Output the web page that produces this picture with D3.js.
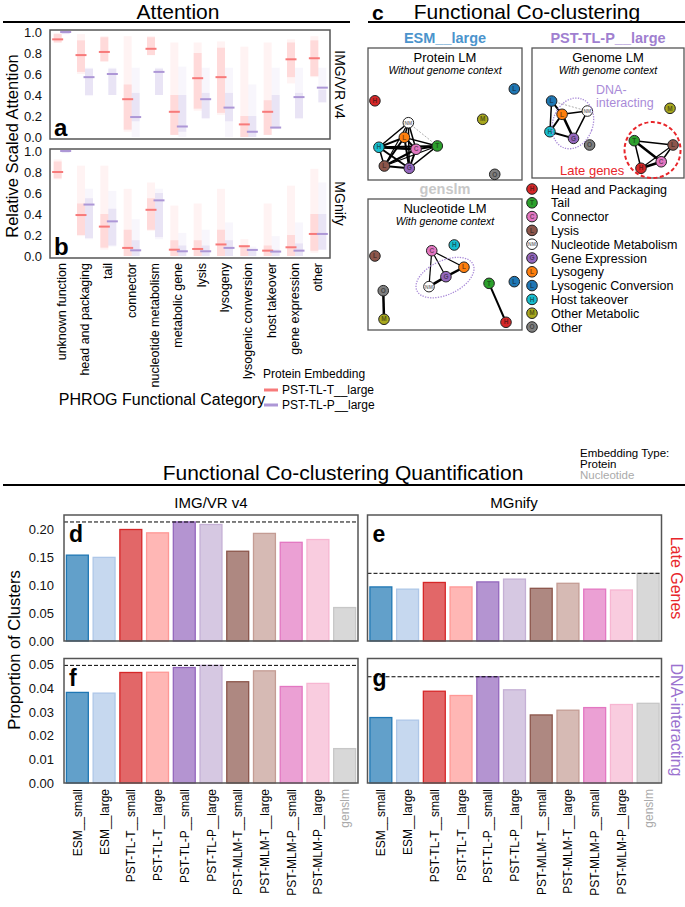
<!DOCTYPE html>
<meta charset="utf-8">
<style>
body { margin: 0; background: #fff; }
svg { font-family: "Liberation Sans", Arial, Helvetica, sans-serif; }
.tick-lbl { font-size: 13px; fill: #111; }
</style>
<svg id="fig" width="685" height="907"></svg>
<script src="https://cdn.jsdelivr.net/npm/d3@7"></script>
<script>

// ---- DATA ----

// panel a/b : attention per PHROG category
const phrogCats = ["unknown function", "head and packaging", "tail", "connector",
  "nucleotide metabolism", "metabolic gene", "lysis", "lysogeny",
  "lysogenic conversion", "host takeover", "gene expression", "other"];
const attnTicks = [0, 0.2, 0.4, 0.6, 0.8, 1.0];

// medians
const imgMedT = [0.93, 0.78, 0.81, 0.36, 0.84, 0.24, 0.56, 0.57, 0.12, 0.24, 0.74, 0.75];
const imgMedP = [1.00, 0.57, 0.60, 0.19, 0.62, 0.10, 0.36, 0.28, 0.05, 0.09, 0.38, 0.47];
const mgMedT  = [0.80, 0.39, 0.28, 0.077, 0.44, 0.06, 0.067, 0.11, 0.093, 0.051, 0.083, 0.21];
const mgMedP  = [1.00, 0.49, 0.33, 0.054, 0.53, 0.045, 0.045, 0.077, 0.058, 0.042, 0.051, 0.21];

// full spread of the point clouds [lo, hi]
const imgRangeT = [[0.90,0.99],[0.60,0.98],[0.72,0.96],[0.05,0.96],[0.78,0.96],[0.02,0.90],[0.25,0.90],[0.21,0.91],[0.0,0.86],[0.02,0.90],[0.51,0.93],[0.57,0.96]];
const imgRangeP = [[0.98,1.0],[0.39,0.66],[0.40,0.66],[0.0,0.66],[0.40,0.66],[0.0,0.67],[0.17,0.66],[0.0,0.66],[0.0,0.50],[0.08,0.66],[0.17,0.66],[0.33,0.66]];
const mgRangeT  = [[0.73,0.92],[0.19,0.86],[0.06,0.86],[0.0,0.64],[0.24,0.70],[0.0,0.48],[0.0,0.50],[0.0,0.64],[0.0,0.16],[0.0,0.50],[0.0,0.67],[0.03,0.83]];
const mgRangeP  = [[0.98,1.0],[0.16,0.64],[0.09,0.62],[0.0,0.35],[0.16,0.64],[0.0,0.22],[0.0,0.25],[0.0,0.32],[0.0,0.09],[0.0,0.19],[0.0,0.32],[0.06,0.70]];
// dense core of the clouds [lo, hi]
const imgCoreT = [[0.90,0.98],[0.62,0.92],[0.72,0.95],[0.07,0.50],[0.78,0.95],[0.02,0.40],[0.27,0.80],[0.23,0.85],[0.0,0.20],[0.02,0.35],[0.57,0.90],[0.58,0.92]];
const imgCoreP = [[0.98,1.0],[0.40,0.65],[0.40,0.65],[0.15,0.42],[0.40,0.65],[0.05,0.40],[0.18,0.42],[0.15,0.42],[0.0,0.20],[0.08,0.40],[0.18,0.42],[0.33,0.45]];
const mgCoreT  = [[0.74,0.90],[0.20,0.50],[0.08,0.40],[0.0,0.25],[0.25,0.55],[0.0,0.15],[0.0,0.15],[0.0,0.25],[0.0,0.10],[0.0,0.10],[0.0,0.20],[0.05,0.40]];
const mgCoreP  = [[0.99,1.0],[0.17,0.55],[0.10,0.45],[0.0,0.15],[0.18,0.60],[0.0,0.10],[0.0,0.10],[0.0,0.15],[0.0,0.06],[0.0,0.06],[0.0,0.12],[0.06,0.40]];

// panel c : network layouts (fractions of each box)
const nodeTypes = ["H","T","C","L","N","G","Y","V","K","M","O"];
const nodeNames = ["Head and Packaging","Tail","Connector","Lysis","Nucleotide Metabolism",
  "Gene Expression","Lysogeny","Lysogenic Conversion","Host takeover","Other Metabolic","Other"];
const nodeGlyphs = ["H","T","C","L","NM","G","L","L","H","M","O"];
const nodeColors = ["#d62728","#2ca02c","#e377c2","#8c564b","#ffffff",
  "#9467bd","#ff7f0e","#1f77b4","#17becf","#a8a81e","#7f7f7f"];

const esmLayout = {H:[0.045,0.40],V:[0.95,0.31],M:[0.745,0.54],N:[0.262,0.566],Y:[0.236,0.677],
  T:[0.45,0.742],K:[0.071,0.752],C:[0.312,0.767],L:[0.106,0.894],G:[0.268,0.911],O:[0.823,0.957]};
const esmEdges = [["N","Y",1.5],["N","K",1.5],["N","C",1.5],["N","L",1.2],["N","G",1.5],["N","T",0,"dash"],
  ["Y","K",2],["Y","T",1.5],["Y","C",2],["Y","L",2],["Y","G",2],
  ["K","C",2.5],["K","T",2],["K","L",1.5],["K","G",2],
  ["C","T",2],["C","L",2],["C","G",2],["T","L",1.2],["T","G",1.5],["L","G",2]];

const pstLayout = {V:[0.129,0.408],Y:[0.198,0.51],N:[0.364,0.485],K:[0.118,0.644],G:[0.273,0.695],
  O:[0.379,0.746],M:[0.908,0.464],T:[0.673,0.713],L:[0.928,0.746],C:[0.85,0.875],H:[0.717,0.925]};
const pstEdges = [["V","Y",2],["V","K",1.5],["V","N",0,"dash"],["Y","N",1.5],["Y","K",2],["Y","G",2.5],
  ["K","G",2],["N","G",1.5],["T","L",1.5],["T","C",2.5],["T","H",1.5],["L","C",1.5],["L","H",1.2],["C","H",2.5]];

const gensLayout = {K:[0.56,0.351],L:[0.045,0.435],C:[0.414,0.395],Y:[0.623,0.521],G:[0.506,0.593],
  N:[0.396,0.669],O:[0.099,0.70],M:[0.104,0.918],T:[0.786,0.644],V:[0.95,0.631],H:[0.896,0.941]};
const gensEdges = [["C","G",1.2],["C","Y",1.2],["C","N",1.2],["Y","G",2.5],["G","N",2.5],["O","M",2.5],["T","H",2]];

// panels d-g : co-clustering proportions
const embModels = ["ESM__small","ESM__large","PST-TL-T__small","PST-TL-T__large",
  "PST-TL-P__small","PST-TL-P__large","PST-MLM-T__small","PST-MLM-T__large",
  "PST-MLM-P__small","PST-MLM-P__large","genslm"];
const modelColors = ["#1f77b4","#aec7e8","#d62728","#ff9896","#9467bd","#c5b0d5",
  "#8c564b","#c49c94","#e377c2","#f7b6d2","#c7c7c7"];
const lateImg = [0.154, 0.150, 0.200, 0.194, 0.2135, 0.209, 0.161, 0.193, 0.177, 0.182, 0.060];
const lateMg  = [0.097, 0.093, 0.105, 0.097, 0.106, 0.111, 0.0945, 0.1035, 0.093, 0.0915, 0.1214];
const dnaImg  = [0.0382, 0.0379, 0.0466, 0.0467, 0.0487, 0.0496, 0.0427, 0.0473, 0.0407, 0.0420, 0.0145];
const dnaMg   = [0.0276, 0.0265, 0.0387, 0.0369, 0.0448, 0.0393, 0.0287, 0.0307, 0.0318, 0.0331, 0.0336];
const lateTicks = [0, 0.05, 0.10, 0.15, 0.20];
const dnaTicks = [0, 0.01, 0.02, 0.03, 0.04, 0.05];

// ---- DRAW ----
const svg = d3.select("#fig");
const colT = "#f77a7a", colP = "#ad97d6";
const cloudT = "#ff8f8f", cloudP = "#b8a3de";

// section titles
function sectionTitle(txt, x, y, x0, x1, ly) {
  svg.append("text").attr("x", x).attr("y", y).attr("text-anchor", "middle")
    .style("font-size", "21px").text(txt);
  svg.append("line").attr("x1", x0).attr("x2", x1).attr("y1", ly).attr("y2", ly)
    .attr("stroke", "#000").attr("stroke-width", 2);
}
sectionTitle("Attention", 178, 19, 3, 350, 22);
sectionTitle("Functional Co-clustering", 527, 19, 368, 685, 22);
svg.append("text").attr("x", 372).attr("y", 20).style("font-size", "21px")
  .style("font-weight", "bold").text("c");
sectionTitle("Functional Co-clustering Quantification", 343, 480, 3, 685, 485);

// ---- attention panels ----
const xA = d3.scaleBand().domain(phrogCats).range([50, 330]);
function attnPanel(top, bottom, medT, medP, rT, rP, cT, cP, letter, side) {
  const y = d3.scaleLinear().domain([0, 1]).range([bottom - 2, top + 2]);
  const g = svg.append("g");
  const cx = d => xA(d) + xA.bandwidth() / 2;
  // clouds
  [[rT, cloudT, -4, 0.11], [cT, cloudT, -4, 0.25], [rP, cloudP, 4, 0.10], [cP, cloudP, 4, 0.22]]
    .forEach(([arr, col, off, op]) => {
      g.selectAll(null).data(phrogCats).enter().append("rect")
        .attr("x", d => cx(d) + off - 4)
        .attr("width", 8)
        .attr("y", (d, i) => y(arr[i][1]))
        .attr("height", (d, i) => Math.max(1.5, y(arr[i][0]) - y(arr[i][1])))
        .attr("fill", col).attr("opacity", op);
    });
  // medians
  [[medT, colT, -4], [medP, colP, 4]].forEach(([arr, col, off]) => {
    g.selectAll(null).data(phrogCats).enter().append("line")
      .attr("x1", d => cx(d) + off - 5.5).attr("x2", d => cx(d) + off + 5.5)
      .attr("y1", (d, i) => y(arr[i])).attr("y2", (d, i) => y(arr[i]))
      .attr("stroke", col).attr("stroke-width", 2);
  });
  g.append("rect").attr("x", 50).attr("y", top).attr("width", 280).attr("height", bottom - top)
    .attr("fill", "none").attr("stroke", "#555").attr("stroke-width", 1.5);
  const ax = g.append("g").attr("transform", "translate(50,0)")
    .call(d3.axisLeft(y).tickValues(attnTicks).tickFormat(d3.format(".1f")).tickSize(0).tickPadding(8));
  ax.select(".domain").remove();
  ax.selectAll("text").attr("class", "tick-lbl").attr("font-family", null).attr("font-size", null);
  g.append("text").attr("x", 54).attr("y", bottom - 3).style("font-size", "24px")
    .style("font-weight", "bold").text(letter);
  g.append("text").attr("transform", `translate(340,${(top + bottom) / 2}) rotate(90)`)
    .attr("text-anchor", "middle").attr("dominant-baseline", "central")
    .style("font-size", "14px").text(side);
}
attnPanel(30, 139, imgMedT, imgMedP, imgRangeT, imgRangeP, imgCoreT, imgCoreP, "a", "IMG/VR v4");
attnPanel(149, 258, mgMedT, mgMedP, mgRangeT, mgRangeP, mgCoreT, mgCoreP, "b", "MGnify");

svg.append("text").attr("transform", "translate(12,146) rotate(-90)")
  .attr("text-anchor", "middle").attr("dominant-baseline", "central")
  .style("font-size", "16.5px").text("Relative Scaled Attention");

svg.append("g").selectAll("text").data(phrogCats).enter().append("text")
  .attr("transform", d => `translate(${xA(d) + xA.bandwidth() / 2 + 4},263) rotate(-90)`)
  .attr("text-anchor", "end").style("font-size", "12.5px").text(d => d);

svg.append("text").attr("x", 162).attr("y", 405).attr("text-anchor", "middle")
  .style("font-size", "16px").text("PHROG Functional Category");

const lg = svg.append("g").attr("transform", "translate(263,378)");
lg.append("text").attr("x", 0).attr("y", 0).style("font-size", "12px").text("Protein Embedding");
[["PST-TL-T__large", colT], ["PST-TL-P__large", colP]].forEach(([t, c], i) => {
  lg.append("line").attr("x1", 1).attr("x2", 15).attr("y1", 12 + i * 15).attr("y2", 12 + i * 15)
    .attr("stroke", c).attr("stroke-width", 3);
  lg.append("text").attr("x", 19).attr("y", 16 + i * 15).style("font-size", "12px").text(t);
});

// ---- panel c networks ----
const colorOf = t => nodeColors[nodeTypes.indexOf(t)];
const glyphOf = t => nodeGlyphs[nodeTypes.indexOf(t)];
function drawNodes(g, keys, px, py) {
  g.selectAll("circle.node").data(keys).enter().append("circle").attr("class", "node")
    .attr("cx", px).attr("cy", py).attr("r", 5.3)
    .attr("fill", k => colorOf(k)).attr("stroke", "#222").attr("stroke-width", 1);
  g.selectAll("text.glyph").data(keys).enter().append("text").attr("class", "glyph")
    .attr("x", px).attr("y", k => py(k) + 2.2).attr("text-anchor", "middle")
    .style("font-size", k => glyphOf(k).length > 1 ? "5px" : "6.5px").style("font-weight", "bold")
    .attr("fill", "#111").attr("opacity", 0.55).text(k => glyphOf(k));
}
function netBox(x0, y0, w, h, layout, edges, head, sub) {
  const sx = d3.scaleLinear().domain([0, 1]).range([x0, x0 + w]);
  const sy = d3.scaleLinear().domain([0, 1]).range([y0, y0 + h]);
  const g = svg.append("g");
  g.append("rect").attr("x", x0).attr("y", y0).attr("width", w).attr("height", h)
    .attr("fill", "none").attr("stroke", "#555").attr("stroke-width", 1.3);
  g.append("text").attr("x", x0 + w / 2).attr("y", y0 + 14).attr("text-anchor", "middle")
    .style("font-size", "13px").text(head);
  g.append("text").attr("x", x0 + w / 2).attr("y", y0 + 26).attr("text-anchor", "middle")
    .style("font-size", "10.5px").style("font-style", "italic").text(sub);
  g.selectAll("line").data(edges).enter().append("line")
    .attr("x1", e => sx(layout[e[0]][0])).attr("y1", e => sy(layout[e[0]][1]))
    .attr("x2", e => sx(layout[e[1]][0])).attr("y2", e => sy(layout[e[1]][1]))
    .attr("stroke", e => e[3] ? "#999" : "#000")
    .attr("stroke-width", e => e[3] ? 0.8 : e[2])
    .attr("stroke-dasharray", e => e[3] ? "2,1.5" : null);
  drawNodes(g, Object.keys(layout), k => sx(layout[k][0]), k => sy(layout[k][1]));
  return {sx, sy, g};
}
svg.append("text").attr("x", 445).attr("y", 43).attr("text-anchor", "middle")
  .style("font-size", "14.5px").style("font-weight", "bold").attr("fill", "#4b94cc").text("ESM__large");
svg.append("text").attr("x", 608).attr("y", 43).attr("text-anchor", "middle")
  .style("font-size", "14.5px").style("font-weight", "bold").attr("fill", "#a07fd0").text("PST-TL-P__large");
svg.append("text").attr("x", 445).attr("y", 194).attr("text-anchor", "middle")
  .style("font-size", "14.5px").style("font-weight", "bold").attr("fill", "#c8c8c8").text("genslm");

netBox(368, 48, 154, 132, esmLayout, esmEdges, "Protein LM", "Without genome context");
const b2 = netBox(532, 48, 152, 130, pstLayout, pstEdges, "Genome LM", "With genome context");
const b3 = netBox(368, 199, 154, 131, gensLayout, gensEdges, "Nucleotide LM", "With genome context");

// highlight shapes
b2.g.append("ellipse").attr("cx", b2.sx(0.269)).attr("cy", b2.sy(0.58)).attr("rx", 20).attr("ry", 26)
  .attr("transform", `rotate(20,${b2.sx(0.269)},${b2.sy(0.58)})`)
  .attr("fill", "none").attr("stroke", "#a98ad8").attr("stroke-width", 1.3).attr("stroke-dasharray", "1.3,1.3");
b2.g.append("circle").attr("cx", b2.sx(0.793)).attr("cy", b2.sy(0.785)).attr("r", 28)
  .attr("fill", "none").attr("stroke", "#e8262b").attr("stroke-width", 2).attr("stroke-dasharray", "4,2.5");
b2.g.append("text").attr("x", 596).attr("y", 94).attr("fill", "#a98ad8").style("font-size", "12.5px").text("DNA-");
b2.g.append("text").attr("x", 596).attr("y", 107).attr("fill", "#a98ad8").style("font-size", "12.5px").text("interacting");
b2.g.append("text").attr("x", 560).attr("y", 175).attr("fill", "#e8262b").style("font-size", "13px").text("Late genes");
b3.g.append("ellipse").attr("cx", b3.sx(0.5)).attr("cy", b3.sy(0.6)).attr("rx", 31).attr("ry", 17)
  .attr("transform", `rotate(-25,${b3.sx(0.5)},${b3.sy(0.6)})`)
  .attr("fill", "none").attr("stroke", "#a98ad8").attr("stroke-width", 1.3).attr("stroke-dasharray", "1.3,1.3");

// legend c
const lc = svg.append("g");
const ly = d3.scaleLinear().domain([0, nodeTypes.length - 1]).range([189, 327]);
drawNodes(lc, nodeTypes, () => 532, k => ly(nodeTypes.indexOf(k)));
lc.selectAll("text.name").data(nodeNames).enter().append("text").attr("class", "name")
  .attr("x", 551).attr("y", (d, i) => ly(i) + 4.5).style("font-size", "12.5px").text(d => d);

// ---- panels d-g ----
svg.append("text").attr("x", 580).attr("y", 457).style("font-size", "11.5px").text("Embedding Type:");
svg.append("text").attr("x", 580).attr("y", 468).style("font-size", "11.5px").text("Protein");
svg.append("text").attr("x", 580).attr("y", 479).style("font-size", "11.5px").attr("fill", "#aaa").text("Nucleotide");
svg.append("text").attr("x", 211).attr("y", 508).attr("text-anchor", "middle").style("font-size", "15px").text("IMG/VR v4");
svg.append("text").attr("x", 514).attr("y", 508).attr("text-anchor", "middle").style("font-size", "15px").text("MGnify");

const yLate = d3.scaleLinear().domain([0, 0.226]).range([641, 515]);
const yDna = d3.scaleLinear().domain([0, 0.0525]).range([783, 658.5]);
const xImg = d3.scaleBand().domain(embModels).range([64, 358]).paddingInner(0.18).paddingOuter(0.09);
const xMg = d3.scaleBand().domain(embModels).range([367.5, 661.5]).paddingInner(0.18).paddingOuter(0.09);

function barPanel(x, y, vals, letter, ticks, fmt) {
  const g = svg.append("g");
  const [x0, x1] = x.range(), [y0, y1] = y.range();
  g.selectAll("rect.bar").data(embModels).enter().append("rect").attr("class", "bar")
    .attr("x", d => x(d)).attr("width", x.bandwidth())
    .attr("y", (d, i) => y(vals[i])).attr("height", (d, i) => y0 - y(vals[i]))
    .attr("fill", (d, i) => modelColors[i]).attr("fill-opacity", 0.7)
    .attr("stroke", (d, i) => modelColors[i]).attr("stroke-width", 1.3);
  const mx = d3.max(vals);
  g.append("line").attr("x1", x0).attr("x2", x1).attr("y1", y(mx)).attr("y2", y(mx))
    .attr("stroke", "#000").attr("stroke-width", 1).attr("stroke-dasharray", "4,2");
  g.append("rect").attr("x", x0).attr("y", y1).attr("width", x1 - x0).attr("height", y0 - y1)
    .attr("fill", "none").attr("stroke", "#555").attr("stroke-width", 1.5);
  g.append("text").attr("x", x0 + 5).attr("y", y1 + 27).style("font-size", "23px")
    .style("font-weight", "bold").text(letter);
  if (ticks) {
    const ax = g.append("g").attr("transform", `translate(${x0},0)`)
      .call(d3.axisLeft(y).tickValues(ticks).tickFormat(d3.format(fmt)).tickSize(0).tickPadding(10));
    ax.select(".domain").remove();
    ax.selectAll("text").attr("class", "tick-lbl").attr("font-family", null).attr("font-size", null);
  }
}
barPanel(xImg, yLate, lateImg, "d", lateTicks, ".2f");
barPanel(xMg, yLate, lateMg, "e", null);
barPanel(xImg, yDna, dnaImg, "f", dnaTicks, ".2f");
barPanel(xMg, yDna, dnaMg, "g", null);

[xImg, xMg].forEach(x => {
  svg.append("g").selectAll("text").data(embModels).enter().append("text")
    .attr("transform", d => `translate(${x(d) + x.bandwidth() / 2 + 4.5},789) rotate(-90)`)
    .attr("text-anchor", "end").style("font-size", "12px")
    .attr("fill", d => d === "genslm" ? "#aaa" : "#000").text(d => d);
});

svg.append("text").attr("transform", "translate(14,650) rotate(-90)")
  .attr("text-anchor", "middle").attr("dominant-baseline", "central")
  .style("font-size", "16.5px").text("Proportion of Clusters");
svg.append("text").attr("transform", "translate(676,578) rotate(90)")
  .attr("text-anchor", "middle").attr("dominant-baseline", "central")
  .style("font-size", "16px").attr("fill", "#e8262b").text("Late Genes");
svg.append("text").attr("transform", "translate(676,720) rotate(90)")
  .attr("text-anchor", "middle").attr("dominant-baseline", "central")
  .style("font-size", "16px").attr("fill", "#9b72cf").text("DNA-interacting");

</script>
